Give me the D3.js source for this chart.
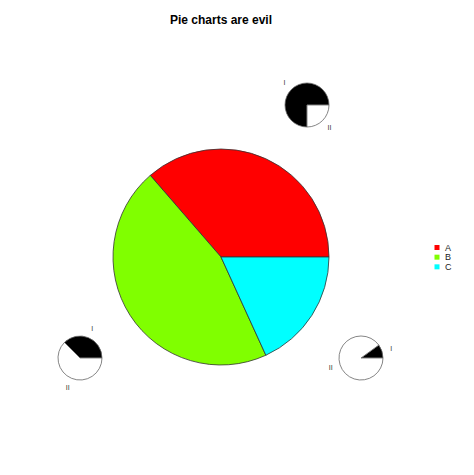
<!DOCTYPE html>
<html>
<head>
<meta charset="utf-8">
<script src="https://cdn.jsdelivr.net/npm/d3@7"></script>
<style>
  body { margin: 0; background: #fff; }
  text { font-family: "Liberation Sans", Arial, sans-serif; }
</style>
</head>
<body>
<div id="chart"></div>
<script>
const categories = ['A', 'B', 'C'];
const values = [40, 50, 20];
const colors = ['#FF0000', '#80FF00', '#00FFFF'];

const insetLabels = ['I', 'II'];
const insetTop = [0.75, 0.25];
const insetLeft = [0.375, 0.625];
const insetRight = [0.1, 0.9];

const width = 474;
const height = 475;

const svg = d3.select('#chart')
    .append('svg')
    .attr('width', width)
    .attr('height', height);

svg.append('text')
    .attr('x', 221)
    .attr('y', 24)
    .attr('text-anchor', 'middle')
    .attr('font-size', 12)
    .attr('font-weight', 'bold')
    .text('Pie charts are evil');

// R style pie: starts at 3 o'clock, goes counterclockwise
const pie = d3.pie()
    .sort(null)
    .startAngle(Math.PI / 2)
    .endAngle(Math.PI / 2 - 2 * Math.PI);

function drawPie(cx, cy, r, data, fills, stroke, labels) {
    const g = svg.append('g').attr('transform', `translate(${cx},${cy})`);
    const arc = d3.arc().innerRadius(0).outerRadius(r);
    const slices = pie(data);
    g.selectAll('path')
        .data(slices)
        .enter()
        .append('path')
        .attr('d', arc)
        .attr('fill', (d, i) => fills[i])
        .attr('stroke', stroke)
        .attr('stroke-width', 0.8);
    if (labels) {
        g.selectAll('text')
            .data(slices)
            .enter()
            .append('text')
            .attr('x', d => Math.sin((d.startAngle + d.endAngle) / 2) * r * 1.45)
            .attr('y', d => -Math.cos((d.startAngle + d.endAngle) / 2) * r * 1.45)
            .attr('dy', '.35em')
            .attr('text-anchor', 'middle')
            .attr('font-size', 7)
            .attr('fill', '#333')
            .text((d, i) => labels[i]);
    }
}

drawPie(221, 257, 108, values, colors, '#333', null);
drawPie(307, 105, 22, insetTop, ['#000', '#fff'], '#666', insetLabels);
drawPie(80, 358, 22, insetLeft, ['#000', '#fff'], '#666', insetLabels);
drawPie(361, 358, 22, insetRight, ['#000', '#fff'], '#666', insetLabels);

// legend
const legend = svg.append('g').attr('transform', 'translate(437,247)');
const yLegend = d3.scaleBand().domain(categories).range([0, 29]);
legend.selectAll('rect')
    .data(categories)
    .enter()
    .append('rect')
    .attr('x', -2.5)
    .attr('y', d => yLegend(d) - 2)
    .attr('width', 5)
    .attr('height', 5)
    .attr('fill', (d, i) => colors[i]);
legend.selectAll('text')
    .data(categories)
    .enter()
    .append('text')
    .attr('x', 8)
    .attr('y', d => yLegend(d) + 0.5)
    .attr('dy', '.35em')
    .attr('font-size', 9)
    .attr('fill', '#222')
    .text(d => d);
</script>
</body>
</html>
